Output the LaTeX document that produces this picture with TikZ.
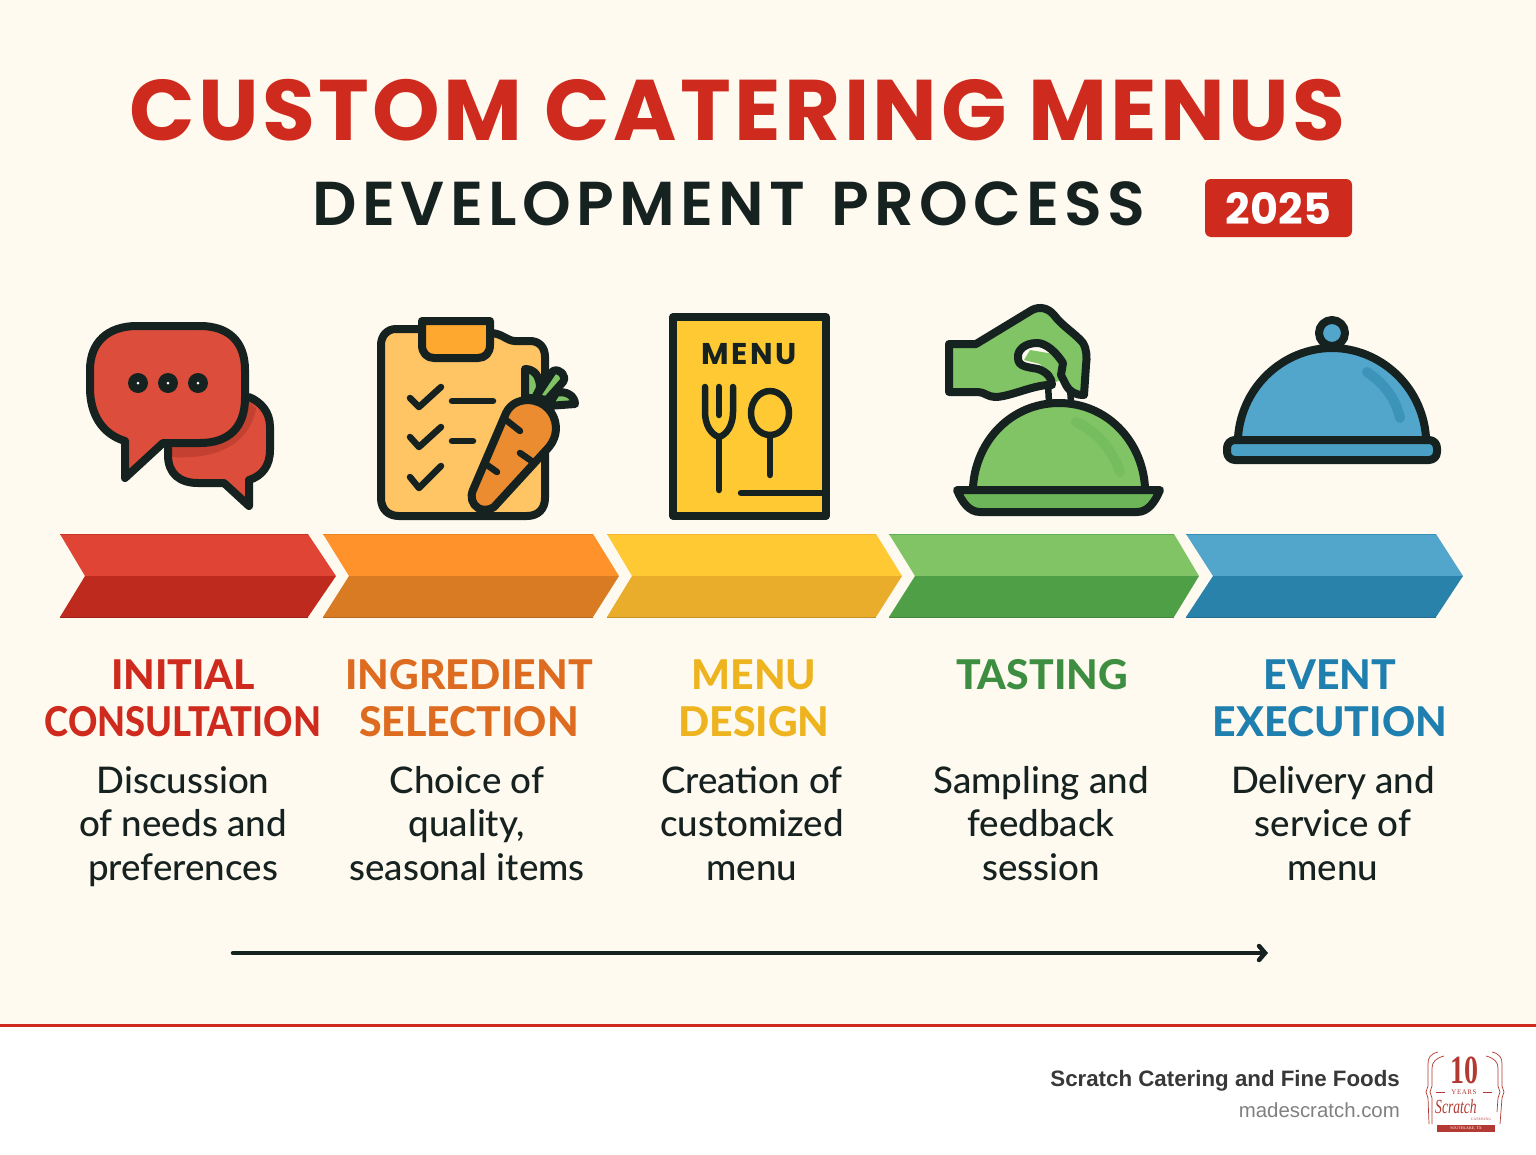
\documentclass[tikz,border=0pt]{standalone}
\usepackage{fontspec}
\usepackage{tikz}
\usetikzlibrary{arrows.meta}
\setmainfont{Lato Medium}
\newfontfamily\titlefont{Poppins SemiBold}
\newfontfamily\badgefont{Poppins}
\newfontfamily\stepfont{Lato Heavy}
\newfontfamily\footfont{Liberation Sans}
\newfontfamily\logofont{Liberation Serif}
\definecolor{cream}{HTML}{FFFAF0}
\definecolor{ink}{HTML}{162220}
\definecolor{brandred}{HTML}{CF2A1E}
\definecolor{redA}{HTML}{DF4434}\definecolor{redB}{HTML}{BF2A1E}
\definecolor{orgA}{HTML}{FF922B}\definecolor{orgB}{HTML}{D97B22}
\definecolor{yelA}{HTML}{FFC934}\definecolor{yelB}{HTML}{E9AC2B}
\definecolor{grnA}{HTML}{80C465}\definecolor{grnB}{HTML}{4E9F45}
\definecolor{bluA}{HTML}{52A6CC}\definecolor{bluB}{HTML}{2982A9}
\definecolor{bubble}{HTML}{DC4E3B}\definecolor{bubshade}{HTML}{C44030}
\definecolor{headorg}{HTML}{DD6B20}\definecolor{headyel}{HTML}{EDB420}
\definecolor{headgrn}{HTML}{3E8E41}\definecolor{headblu}{HTML}{1F7FAF}
\definecolor{logored}{HTML}{B23A32}

\begin{document}
\begin{tikzpicture}[x=1pt,y=-1pt,
    icon/.style={draw=ink,line width=8pt,line join=round,line cap=round},
    glyph/.style={draw=ink,line width=6.5pt,line join=round,line cap=round},
    headtxt/.style={inner sep=0pt,anchor=north,align=center,font=\stepfont\fontsize{41}{47}\selectfont},
    desctxt/.style={inner sep=0pt,anchor=north,align=center,text=ink,font=\fontsize{36.7}{43.7}\selectfont},
    logotxt/.style={inner sep=0pt,text=logored},
    logoline/.style={draw=logored,line width=.7pt}]
  \useasboundingbox (0,0) rectangle (1536,1154);
  \fill[cream] (0,0) rectangle (1536,1154);
  \fill[white] (0,1026) rectangle (1536,1154);
  \draw[line width=3pt,color=brandred] (0,1025) -- (1536,1025);

  \node[inner sep=0pt,text=brandred,font=\badgefont\bfseries\fontsize{86}{90}\selectfont\addfontfeature{LetterSpace=4}] (title) at (737.5,110) {CUSTOM CATERING MENUS};
  \node[inner sep=0pt,text=ink,font=\titlefont\fontsize{62}{66}\selectfont\addfontfeature{LetterSpace=8.6}] (subtitle) at (729,204) {DEVELOPMENT\hspace{6pt} PROCESS};
  \node[fill=brandred,rounded corners=6pt,minimum width=147pt,minimum height=58pt,inner sep=0pt,text=white,font=\badgefont\fontsize{43}{48}\selectfont] (badge) at (1278.5,208) {\textbf{2025}};

  % chevrons
  \foreach \xa/\xb/\xc/\xd/\ctop/\cbot in {60/85/308/336/redA/redB,323/349/593/619/orgA/orgB,607/632/876/902/yelA/yelB,889/915/1174/1199/grnA/grnB,1186/1213/1436/1463/bluA/bluB} {
    \fill[\ctop] (\xa,534) -- (\xc,534) -- (\xd,576) -- (\xb,576) -- cycle;
    \fill[\cbot] (\xb,576) -- (\xd,576) -- (\xc,617) -- (\xa,617) -- cycle;
    \draw[\cbot!60!\ctop,line width=1pt] (\xa,534) -- (\xc,534);
    \draw[\cbot!85!black,line width=1pt] (\xa,617) -- (\xc,617);
  }

  % speech bubbles
  \fill[bubble] (168,448) -- (168,455) .. controls (168,474) and (180,483) .. (198,483) -- (224,483) -- (249,506) -- (249,480) .. controls (262,476) and (270,466) .. (270,450) -- (270,427) .. controls (270,412) and (261,402) .. (249,397) -- cycle;
  \fill[bubshade] (172,446) -- (172,457) .. controls (215,460) and (250,445) .. (256,408) -- (244,396) -- cycle;
  \draw[icon] (168,448) -- (168,455) .. controls (168,474) and (180,483) .. (198,483) -- (224,483) -- (249,506) -- (249,480) .. controls (262,476) and (270,466) .. (270,450) -- (270,427) .. controls (270,412) and (261,402) .. (249,397);
  \path[icon,fill=bubble] (125,441) .. controls (102,434) and (90,414) .. (90,388) -- (90,370) .. controls (90,342) and (108,326) .. (137,326) -- (200,326) .. controls (229,326) and (245,342) .. (245,370) -- (245,398) .. controls (245,427) and (229,443) .. (200,443) -- (163,443) -- (125,478) -- cycle;
  \foreach \px in {138,168,198} {
    \fill[ink] (\px,383) circle (10);
    \fill[white] (\px,383) circle (1.5);
  }

  % clipboard
  \path[icon,fill=yelA!55!orgA!75!white] (422,329) -- (396,329) .. controls (387,329) and (381,336) .. (381,345) -- (381,498) .. controls (381,509) and (388,516) .. (399,516) -- (527,516) .. controls (538,516) and (545,509) .. (545,498) -- (545,357) .. controls (545,347) and (539,341) .. (530,341) -- (515,341) .. controls (507,341) and (502,333) .. (490,333);
  \path[icon,fill=orgA!60!yelA] (422,321) -- (490,321) -- (490,345) .. controls (490,353) and (485,358) .. (478,358) -- (434,358) .. controls (427,358) and (422,353) .. (422,345) -- cycle;
  \draw[glyph] (410,398) -- (419,407) -- (441,387);
  \draw[glyph] (410,437) -- (419,447) -- (441,427);
  \draw[glyph] (410,477) -- (419,488) -- (441,466);
  \draw[glyph] (452,401) -- (493,401);
  \draw[glyph] (452,441) -- (473,441);

  % carrot
  \path[icon,fill=grnA] (525,398) -- (525,369) .. controls (534,369) and (540,376) .. (540,388) -- (535,398) -- cycle;
  \path[icon,fill=grnA] (535,398) -- (553,371) .. controls (560,368) and (567,376) .. (563,382) -- (547,400) -- cycle;
  \path[icon,fill=grnA] (548,406) -- (556,393) .. controls (566,390) and (575,396) .. (575,404) -- cycle;
  \path[icon,fill=orgA!70!brown] (473,490) -- (506,413) .. controls (511,403) and (520,400) .. (529,400) .. controls (544,401) and (555,412) .. (556,427) .. controls (556,436) and (553,442) .. (549,447) -- (494,507) .. controls (490,510) and (483,511) .. (478,508) .. controls (472,504) and (470,497) .. (473,490) -- cycle;
  \draw[glyph] (506,420) -- (520,431);
  \draw[glyph] (520,453) -- (533,462);
  \draw[glyph] (487,465) -- (497,472);

  % menu card
  \path[icon,fill=yelA] (673,317) rectangle (826,516);
  \node[inner sep=0pt,text=ink,font=\badgefont\bfseries\fontsize{30}{32}\selectfont\addfontfeature{LetterSpace=8}] (menuword) at (749,354) {MENU};
  \draw[glyph] (705,387) -- (705,412) .. controls (705,426) and (712,435) .. (719,437) .. controls (726,435) and (733,426) .. (733,412) -- (733,387);
  \draw[glyph] (719,387) -- (719,415);
  \draw[glyph] (719,437) -- (719,490);
  \draw[glyph] (770,413) ellipse (19 and 22);
  \draw[glyph] (770,435) -- (770,475);
  \draw[glyph] (741,493) -- (822,493);

  % green cloche and hand
  \draw[glyph] (1048,385) -- (1049,402);
  \draw[glyph] (1070,388) -- (1071,402);
  \path[icon,fill=grnA] (973,487) .. controls (976,440) and (1012,403) .. (1059,403) .. controls (1106,403) and (1142,440) .. (1145,487);
  \draw[draw=grnA!80!grnB,line width=10pt,line cap=round] (1076,422) .. controls (1098,432) and (1112,450) .. (1120,472);
  \path[icon,fill=grnA!60!grnB] (957,490) -- (1160,490) .. controls (1155,502) and (1148,512) .. (1137,512) -- (980,512) .. controls (969,512) and (962,502) .. (957,490) -- cycle;
  \fill[grnA] (1030,350) -- (1060,355) -- (1064,378) -- (1056,382) -- (1040,364) -- (1024,360) -- cycle;
  \path[icon,fill=grnA] (949,344) -- (976,344) -- (1032,310) .. controls (1040,306) and (1048,308) .. (1054,315) .. controls (1062,326) and (1076,334) .. (1083,343) .. controls (1087,350) and (1087,358) .. (1086,365) -- (1084,395) .. controls (1075,395) and (1070,392) .. (1066,385) -- (1061,375) -- (1063,363) .. controls (1056,352) and (1046,343) .. (1037,343) .. controls (1025,343) and (1017,350) .. (1018,358) .. controls (1018,367) and (1028,367) .. (1038,369) .. controls (1047,372) and (1052,378) .. (1052,385) .. controls (1035,384) and (1010,397) .. (995,397) .. controls (988,397) and (984,392) .. (978,392) -- (949,392) -- cycle;

  % blue cloche
  \path[icon,fill=bluA] (1332,333) circle (13);
  \path[icon,fill=bluA] (1238,437) .. controls (1242,385) and (1285,348) .. (1332,348) .. controls (1379,348) and (1422,385) .. (1426,437);
  \draw[draw=bluB!50!bluA,line width=10pt,line cap=round] (1367,372) .. controls (1385,384) and (1396,400) .. (1400,418);
  \path[icon,fill=bluA!80!bluB,rounded corners=8pt] (1227,440) rectangle (1437,460);

  % step labels
  \node[headtxt,text=brandred] (h1) at (183,659.5) {INITIAL\\\scalebox{.885}[1]{CONSULTATION}};
  \node[headtxt,text=headorg] (h2) at (469,659.5) {INGREDIENT\\SELECTION};
  \node[headtxt,text=headyel] (h3) at (754,659.5) {MENU\\DESIGN};
  \node[headtxt,text=headgrn] (h4) at (1042,659.5) {TASTING};
  \node[headtxt,text=headblu] (h5) at (1330,659.5) {EVENT\\EXECUTION};
  \node[desctxt] (d1) at (183,766) {Discussion\\of needs and\\preferences};
  \node[desctxt] (d2) at (467,766) {Choice of\\quality,\\seasonal items};
  \node[desctxt] (d3) at (752,766) {Creation of\\customized\\menu};
  \node[desctxt] (d4) at (1041,766) {Sampling and\\feedback\\session};
  \node[desctxt] (d5) at (1333,766) {Delivery and\\service of\\menu};

  \coordinate (tstart) at (233,953);
  \coordinate (tend) at (1268,953);
  \draw[line width=4.5pt,color=ink,line cap=round,-{Straight Barb[length=6pt,width=14pt,line cap=round]}] (tstart) -- (tend);

  % footer
  \node[inner sep=0pt,anchor=base east,text=black!78,font=\footfont\bfseries\fontsize{22.3}{26}\selectfont] (brand) at (1400,1086) {Scratch Catering and Fine Foods};
  \node[inner sep=0pt,anchor=base east,text=black!50,font=\footfont\fontsize{20.4}{24}\selectfont] (site) at (1400,1117) {madescratch.com};

  % logo
  \draw[logoline] (1438,1052) .. controls (1430,1054) and (1428,1058) .. (1428,1064) -- (1428,1086) -- (1426,1092) -- (1428,1098) -- (1429,1124);
  \draw[logoline] (1444,1056) .. controls (1436,1058) and (1432,1062) .. (1432,1068) -- (1432,1086) -- (1430,1092) -- (1432,1098) -- (1432,1124);
  \draw[logoline] (1492,1052) .. controls (1500,1054) and (1502,1058) .. (1502,1064) -- (1502,1086) -- (1504,1092) -- (1502,1098) -- (1500,1124);
  \draw[logoline] (1486,1056) .. controls (1494,1058) and (1498,1062) .. (1498,1068) -- (1498,1086) -- (1500,1092) -- (1498,1098) -- (1497,1112);
  \node[logotxt,font=\logofont\bfseries\fontsize{40}{40}\selectfont] (ten) at (1464,1070) {\scalebox{.7}[1]{10}};
  \node[logotxt,font=\logofont\fontsize{7}{7}\selectfont\addfontfeature{LetterSpace=8}] (years) at (1464,1092.5) {YEARS};
  \draw[logoline] (1436,1092) -- (1445,1092);
  \draw[logoline] (1483,1092) -- (1492,1092);
  \node[logotxt,font=\logofont\itshape\fontsize{16}{16}\selectfont] (scr) at (1456,1107) {\scalebox{.85}[1.25]{Scratch}};
  \node[logotxt,font=\logofont\fontsize{3.6}{4}\selectfont\addfontfeature{LetterSpace=10}] (cat) at (1481,1119) {CATERING};
  \node[fill=logored,text=white,inner sep=1pt,minimum width=58pt,minimum height=7pt,font=\logofont\fontsize{4}{4}\selectfont] (town) at (1466,1128) {SOUTHLAKE, TX};
\end{tikzpicture}
\end{document}
